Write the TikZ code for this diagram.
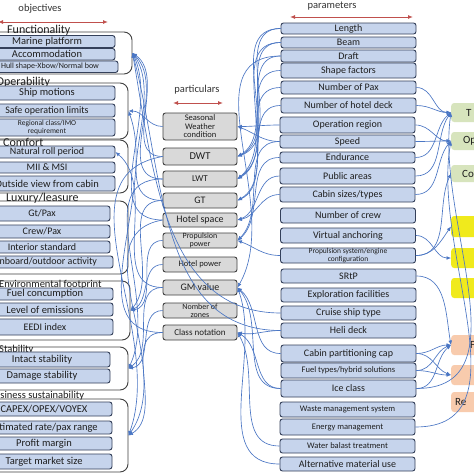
\documentclass[tikz,border=0pt]{standalone}
\usepackage{fontspec}
\setmainfont{Carlito}
\usetikzlibrary{arrows.meta}
\definecolor{blueF}{HTML}{C6D4EC}
\definecolor{bordc}{HTML}{34405A}
\definecolor{grayF}{HTML}{D9D9D9}
\definecolor{grayB}{HTML}{404040}
\definecolor{lineC}{HTML}{4A76C4}
\definecolor{redA}{HTML}{C0504D}
\definecolor{greenF}{HTML}{D7E4BD}
\definecolor{yellowF}{HTML}{F0EA1C}
\definecolor{orangeF}{HTML}{F8CBAD}
\definecolor{txtC}{HTML}{1E1E1E}
\begin{document}
\begin{tikzpicture}[x=1pt,y=1pt,
  fs/.style={font=\fontsize{#1}{#1}\selectfont},
  base/.style={rounded corners=2.5pt, line width=0.9pt, inner sep=0pt, align=center, text=txtC, fs=10},
  pbox/.style={base, draw=bordc, fill=blueF, minimum width=135pt},
  obox/.style={base, draw=bordc, fill=blueF, minimum width=136pt},
  qbox/.style={base, draw=grayB, fill=grayF, minimum width=74pt},
  grp/.style={draw=grayB, line width=0.9pt, rounded corners=8pt, fill=white, inner sep=0pt},
  ttl/.style={anchor=base west, inner sep=0pt, text=txtC, fs=12},
  hdr/.style={inner sep=0pt, text=black!80, fs=10.5},
  rbox/.style={rounded corners=3pt, inner sep=0pt, minimum width=60pt, anchor=west},
  rtxt/.style={anchor=west, inner sep=0pt, text=txtC, fs=11},
  redarr/.style={draw=redA, line width=1pt, {Latex[length=5pt,width=4pt]}-{Latex[length=5pt,width=4pt]}},
  conn/.style={draw=lineC, line width=0.65pt},
  arr/.style={conn, -{Latex[length=4.5pt,width=3.8pt]}},
]
\useasboundingbox (0,0) rectangle (474,-474);
\clip (0,0) rectangle (474,-474);
\fill[white] (0,0) rectangle (474,-474);

% ---------------- headers ----------------
\node[hdr] (hobj) at (40,-9) {objectives};
\coordinate (oa1) at (-2,-22); \coordinate (oa2) at (108,-22);
\draw[redarr] (oa1) -- (oa2);
\node[hdr] (hpar) at (197,-90) {particulars};
\coordinate (pa1) at (173,-103); \coordinate (pa2) at (223,-103);
\draw[redarr] (pa1) -- (pa2);
\node[hdr] (hprm) at (332,-6) {parameters};
\coordinate (ra1) at (290,-17); \coordinate (ra2) at (413,-17);
\draw[redarr] (ra1) -- (ra2);

% ---------------- objective groups ----------------
\node[grp, minimum width=144pt, minimum height=42pt] (gF) at (60,-53) {};
\node[grp, minimum width=140pt, minimum height=56pt] (gO) at (58,-111) {};
\node[grp, minimum width=140pt, minimum height=53pt] (gC) at (58,-166.5) {};
\node[grp, minimum width=140pt, minimum height=73pt] (gL) at (58,-237.5) {};
\node[grp, minimum width=142pt, minimum height=59pt] (gE) at (59,-310.5) {};
\node[grp, minimum width=140pt, minimum height=43pt] (gS) at (58,-368.5) {};
\node[grp, minimum width=140pt, minimum height=73pt] (gB) at (58,-435.5) {};

\node[ttl] (tF) at (7,-33) {Functionality};
\node[ttl] (tO) at (-4,-85) {Operability};
\node[ttl] (tC) at (3,-146) {Comfort};
\node[ttl] (tL) at (6,-201) {Luxury/leasure};
\node[ttl, fs=10.5] (tE) at (-1,-287) {Environmental footprint};
\node[ttl, fs=10.5] (tS) at (-1,-352) {Stability};
\node[ttl, fs=10.5] (tB) at (-11,-398) {Business sustainability};

% ---------------- objective items ----------------
\node[obox, minimum height=12pt, fs=10.5] (mp) at (47,-41.5) {Marine platform};
\node[obox, minimum height=11.5pt, fs=10.5] (acc) at (47,-54.25) {Accommodation};
\node[obox, minimum height=11.5pt, fs=8] (hull) at (50,-66.75) {Hull shape-Xbow/Normal bow};
\node[obox, minimum height=14pt, fs=10.5] (sm) at (47,-93) {Ship motions};
\node[obox, minimum height=13pt, fs=10] (sol) at (47,-110.5) {Safe operation limits};
\node[obox, minimum height=17pt, fs=7.5] (reg) at (47,-127.5) {Regional class/IMO\\requirement};
\node[obox, minimum height=12pt, fs=10] (nrp) at (47,-152) {Natural roll period};
\node[obox, minimum height=11pt, fs=10] (mii) at (47,-167.5) {MII \& MSI};
\node[obox, minimum height=15pt, fs=10.5] (ov) at (47,-183.5) {Outside view from cabin};
\node[obox, minimum height=15pt, fs=10] (gtp) at (42,-213.5) {Gt/Pax};
\node[obox, minimum height=13pt, fs=10] (crp) at (42,-231.5) {Crew/Pax};
\node[obox, minimum height=12pt, fs=10] (ins) at (42,-247) {Interior standard};
\node[obox, minimum height=12pt, fs=10] (ooa) at (45,-262) {Onboard/outdoor activity};
\node[obox, minimum height=12pt, fs=10.5] (fc) at (45,-294) {Fuel concumption};
\node[obox, minimum height=13pt, fs=10.5] (loe) at (45,-309.5) {Level of emissions};
\node[obox, minimum height=16pt, fs=10] (eedi) at (45,-327) {EEDI index};
\node[obox, minimum height=15pt, fs=10.5] (ist) at (42,-359.5) {Intact stability};
\node[obox, minimum height=14pt, fs=10.5] (dst) at (42,-376) {Damage stability};
\node[obox, minimum height=14pt, fs=10.5] (capx) at (44,-409) {CAPEX/OPEX/VOYEX};
\node[obox, minimum height=13pt, fs=10.5] (erp) at (44,-427.5) {Estimated rate/pax range};
\node[obox, minimum height=13pt, fs=10.5] (pm) at (44,-443.5) {Profit margin};
\node[obox, minimum height=15pt, fs=10.5] (tms) at (44,-461.5) {Target market size};

% ---------------- particulars ----------------
\node[qbox, minimum height=27pt, fs=8.5] (sea) at (200,-126.5) {Seasonal\\Weather\\condition};
\node[qbox, minimum height=17pt, fs=10.5] (dwt) at (200,-156.5) {DWT};
\node[qbox, minimum height=16pt, fs=9] (lwt) at (200,-179) {LWT};
\node[qbox, minimum height=15pt, fs=10] (gt) at (200,-200.5) {GT};
\node[qbox, minimum height=14pt, fs=10] (hsp) at (200,-220) {Hotel space};
\node[qbox, minimum height=15pt, fs=8] (pp) at (200,-240.5) {Propulsion\\power};
\node[qbox, minimum height=15pt, fs=8.5] (hp) at (200,-264.5) {Hotel power};
\node[qbox, minimum height=15pt, fs=10] (gm) at (200,-287.5) {GM value};
\node[qbox, minimum height=15pt, fs=8] (noz) at (200,-310.5) {Nomber of\\zones};
\node[qbox, minimum height=15pt, fs=9] (cls) at (200,-332.5) {Class notation};

% ---------------- parameters ----------------
\node[pbox, minimum height=11pt] (len) at (348.5,-28.5) {Length};
\node[pbox, minimum height=11pt] (beam) at (348.5,-42.5) {Beam};
\node[pbox, minimum height=12pt] (draft) at (348.5,-56) {Draft};
\node[pbox, minimum height=15pt] (shp) at (348.5,-70.5) {Shape factors};
\node[pbox, minimum height=13pt] (nop) at (348.5,-87.5) {Number of Pax};
\node[pbox, minimum height=15pt] (hdk) at (348.5,-105.5) {Number of hotel deck};
\node[pbox, minimum height=16pt] (oreg) at (347.5,-125) {Operation region};
\node[pbox, minimum height=13pt] (spd) at (347.5,-141.5) {Speed};
\node[pbox, minimum height=11pt] (endu) at (347.5,-157.5) {Endurance};
\node[pbox, minimum height=16pt] (pub) at (347.5,-176) {Public areas};
\node[pbox, minimum height=15pt] (cab) at (347.5,-194.5) {Cabin sizes/types};
\node[pbox, minimum height=15pt] (crew) at (348,-215.5) {Number of crew};
\node[pbox, minimum height=15pt] (va) at (348,-235.5) {Virtual anchoring};
\node[pbox, minimum height=15pt, fs=7.5] (psys) at (348,-255.5) {Propulsion system/engine\\configuration};
\node[pbox, minimum height=14pt] (srtp) at (348.5,-276) {SRtP};
\node[pbox, minimum height=14pt] (expl) at (348.5,-295) {Exploration facilities};
\node[pbox, minimum height=14pt] (cst) at (348.5,-313) {Cruise ship type};
\node[pbox, minimum height=15pt] (heli) at (348.5,-330.5) {Heli deck};
\node[pbox, minimum height=17pt] (cpc) at (348.5,-353.5) {Cabin partitioning cap};
\node[pbox, minimum height=15pt, fs=8.5] (fuel) at (348.5,-370.5) {Fuel types/hybrid solutions};
\node[pbox, minimum height=17pt] (ice) at (348.5,-388.5) {Ice class};
\node[pbox, minimum height=15pt, fs=8.5] (wms) at (347.5,-409.5) {Waste management system};
\node[pbox, minimum height=16pt, fs=8.5] (emg) at (347.5,-427) {Energy management};
\node[pbox, minimum height=14pt, fs=8.5] (wbt) at (347.5,-446) {Water balast treatment};
\node[pbox, minimum height=14pt] (alt) at (347.5,-464) {Alternative material use};

% ---------------- right boxes ----------------
\node[rbox, fill=greenF, minimum height=19pt] (bT) at (451,-112.5) {};
\node[rbox, fill=greenF, minimum height=18pt] (bOp) at (451,-141) {};
\node[rbox, fill=greenF, minimum height=17pt] (bCo) at (451,-173.5) {};
\node[rbox, fill=yellowF, minimum height=21pt] (bY1) at (451,-226.5) {};
\node[rbox, fill=yellowF, minimum height=20pt] (bY2) at (451,-258) {};
\node[rbox, fill=yellowF, minimum height=20pt] (bY3) at (451,-288) {};
\node[rbox, fill=orangeF, minimum height=20pt] (bF) at (451,-345) {};
\node[rbox, fill=orangeF, minimum height=20pt] (bO2) at (451,-375) {};
\node[rbox, fill=orangeF, minimum height=20pt] (bRe) at (451,-402) {};
\node[rtxt] (xT) at (466,-112.5) {T};
\node[rtxt] (xOp) at (463,-141) {Op};
\node[rtxt] (xCo) at (462,-173.5) {Co};
\node[rtxt] (xF) at (470,-345) {F};
\node[rtxt] (xRe) at (455,-402) {Re};

% ---------------- connectors: particulars -> objectives ----------------
\draw[arr] (dwt.west) to[out=180,in=-35] (gF.east);
\draw[arr] (lwt.west) to[out=180,in=-45] (gF.east);
\draw[arr] (gt.west) to[out=180,in=-55] (gF.east);
\draw[arr] (hsp.west) to[out=180,in=-65] (gF.east);
\draw[arr] (sea.west) to[out=180,in=0] (gO.east);
\draw[arr] (cls.west) to[out=180,in=-70] (gO.east);
\draw[arr] (gm.west) to[out=180,in=-40] (nrp.east);
\draw[arr] (pp.west) to[out=180,in=10] (gE.east);
\draw[arr] (hp.west) to[out=180,in=25] (gE.east);
\draw[arr] (gt.west) to[out=180,in=50] (gE.east);
\draw[arr] (gm.west) to[out=180,in=35] (gS.east);
\draw[arr] (noz.west) to[out=180,in=10] (gS.east);
\draw[arr] (lwt.west) to[out=180,in=65] (gS.east);
\draw[arr] (dwt.west) to[out=190,in=70] (gB.east);
\draw[arr] (hsp.west) to[out=190,in=55] (gB.east);
\draw[arr] (cls.west) to[out=180,in=30] (gB.east);
\draw[arr] (cst.west) to[out=180,in=-80] (gF.east);
\draw[arr] (heli.west) to[out=180,in=-75] (gF.east);

% ---------------- connectors: parameters -> particulars ----------------
\draw[arr] (oreg.west) to[out=180,in=0] (sea.east);
\draw[arr] (spd.west) to[out=180,in=-20] (sea.east);
\draw[arr] (len.west) to[out=180,in=20] (dwt.east);
\draw[arr] (beam.west) to[out=180,in=25] (dwt.east);
\draw[arr] (draft.west) to[out=180,in=30] (dwt.east);
\draw[arr] (len.west) to[out=180,in=35] (lwt.east);
\draw[arr] (beam.west) to[out=180,in=40] (lwt.east);
\draw[arr] (shp.west) to[out=180,in=30] (lwt.east);
\draw[arr] (nop.west) to[out=180,in=30] (gt.east);
\draw[arr] (hdk.west) to[out=180,in=25] (gt.east);
\draw[arr] (pub.west) to[out=180,in=20] (hsp.east);
\draw[arr] (cab.west) to[out=180,in=10] (hsp.east);
\draw[arr] (spd.west) to[out=180,in=45] (pp.east);
\draw[arr] (endu.west) to[out=180,in=40] (pp.east);
\draw[arr] (psys.west) to[out=180,in=-20] (pp.east);
\draw[arr] (draft.west) to[out=180,in=60] (gm.east);
\draw[arr] (ice.west) to[out=180,in=-50] (gm.east);
\draw[arr] (cpc.west) to[out=180,in=-40] (gm.east);
\draw[arr] (alt.west) to[out=180,in=-70] (gm.east);
\draw[arr] (ice.west) to[out=180,in=-30] (cls.east);
\draw[arr] (wbt.west) to[out=180,in=-60] (cls.east);
\draw[arr] (heli.west) to[out=180,in=-10] (cls.east);

% ---------------- connectors: parameters -> right boxes ----------------
\draw[arr] (nop.east) to[out=0,in=180] (bT.west);
\draw[arr] (hdk.east) to[out=0,in=180] (bT.west);
\draw[arr] (endu.east) to[out=0,in=220] (bT.west);
\draw[arr] (pub.east) to[out=0,in=235] (bT.west);
\draw[arr] (oreg.east) to[out=0,in=180] (bOp.west);
\draw[arr] (spd.east) to[out=0,in=180] (bOp.west);
\draw[arr] (cab.east) to[out=0,in=230] (bOp.west);
\draw[arr] (emg.east) to[out=0,in=260] (bOp.west);
\draw[arr] (ice.east) to[out=0,in=262] (bT.west);
\draw[arr] (psys.east) to[out=0,in=245] (bCo.west);
\draw[arr] (psys.east) to[out=0,in=235] (bY1.west);
\draw[arr] (va.east) to[out=0,in=180] (bY2.west);
\draw[arr] (cpc.east) to[out=0,in=180] (bF.west);
\draw[arr] (fuel.east) to[out=0,in=200] (bF.west);
\draw[arr] (ice.east) to[out=0,in=220] (bF.west);
\draw[arr] (cpc.east) to[out=0,in=160] (bO2.west);
\draw[arr] (fuel.east) to[out=0,in=180] (bO2.west);
\draw[arr] (srtp.east) to[out=0,in=100] (bF.west);
\end{tikzpicture}
\end{document}
